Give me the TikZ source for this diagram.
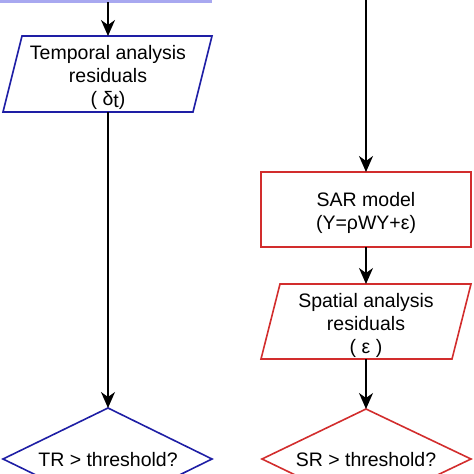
\documentclass[tikz,border=0pt]{standalone}
\usepackage{fontspec}
\setmainfont{Liberation Sans}
\usetikzlibrary{arrows.meta}
\definecolor{bl}{RGB}{30,30,165}
\definecolor{rd}{RGB}{210,45,45}
\definecolor{lav}{RGB}{168,168,240}
\begin{document}
\begin{tikzpicture}[x=1pt,y=-1pt,
  txt/.style={font=\fontsize{19.5}{23}\selectfont,align=center,inner sep=0pt},
  bshape/.style={draw=bl,line width=1.6pt,line join=miter},
  rshape/.style={draw=rd,line width=1.6pt,line join=miter},
  arr/.style={draw=black,line width=1.5pt,-{Stealth[length=16pt,width=14pt,inset=5pt]}}]
\useasboundingbox (0,0) rectangle (474,474);
\clip (0,0) rectangle (474,474);
% top cut box
\fill[lav] (0,-10) rectangle (212,2.5);
\coordinate (topL) at (108,2);
\coordinate (topR) at (366,-2);
% left parallelogram
\coordinate (tpT) at (108,36);
\coordinate (tpB) at (108,112);
\draw[bshape] (22,36) -- (212,36) -- (193,112) -- (3,112) -- cycle;
\node[txt] (tp) at (108,77) {Temporal analysis\\residuals\\( δ\raisebox{-2pt}{t})};
% left diamond
\coordinate (tdT) at (108,408);
\draw[bshape] (108,408) -- (212,459) -- (108,510) -- (3,459) -- cycle;
\node[txt] (td) at (108,460) {TR > threshold?};
% right SAR box
\coordinate (sarT) at (366,172);
\coordinate (sarB) at (366,247);
\draw[rshape] (261,172) rectangle (471,247);
\node[txt] (sar) at (366,213) {SAR model\\(Y=ρWY+ε)};
% right parallelogram
\coordinate (spT) at (366,284);
\coordinate (spB) at (366,359);
\draw[rshape] (280,284) -- (471,284) -- (452,359) -- (261,359) -- cycle;
\node[txt] (sp) at (366,325) {Spatial analysis\\residuals\\( ε )};
% right diamond
\coordinate (sdT) at (366,409);
\draw[rshape] (366,409) -- (471,459) -- (366,509) -- (262,459) -- cycle;
\node[txt] (sd) at (366,460) {SR > threshold?};
% arrows
\draw[arr] (topL) -- (tpT);
\draw[arr] (tpB) -- (tdT);
\draw[arr] (topR) -- (sarT);
\draw[arr] (sarB) -- (spT);
\draw[arr] (spB) -- (sdT);
\end{tikzpicture}
\end{document}
